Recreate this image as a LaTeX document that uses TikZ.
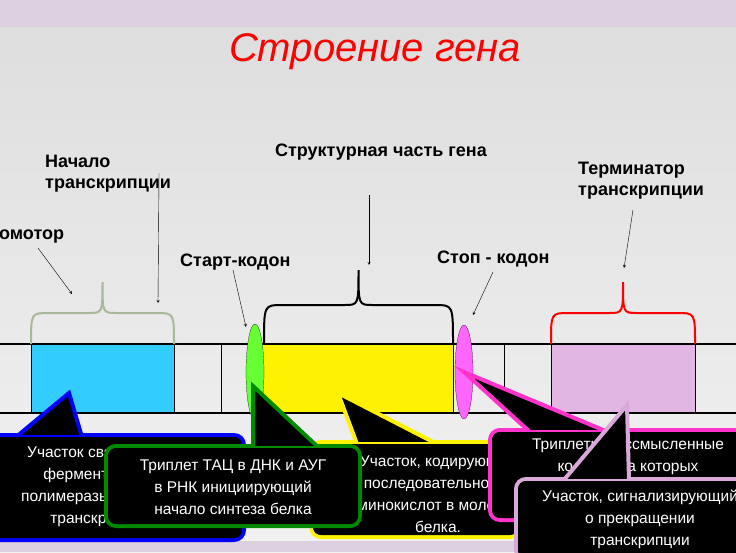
\documentclass[tikz,border=0pt]{standalone}
\usepackage{fontspec}
\setmainfont{Liberation Sans}
\usetikzlibrary{positioning}
\usetikzlibrary{shapes.geometric}
\usetikzlibrary{calc}
\definecolor{topband}{HTML}{DCD0E0}
\definecolor{bgtop}{HTML}{DEDEDE}
\definecolor{bgbot}{HTML}{F2F2F2}
\definecolor{promgrey}{HTML}{A8B898}
\definecolor{promblue}{HTML}{33CCFF}
\definecolor{startgreen}{HTML}{66FF33}
\definecolor{stoppink}{HTML}{FF66FF}
\definecolor{termpink}{HTML}{E2B6E2}
\definecolor{callpink}{HTML}{FF33CC}
\definecolor{callgreen}{HTML}{008A00}
\definecolor{callthistle}{HTML}{D8A8D8}

% brace over a gene part: x1, x2, shoulder y, tip y, colour
\newcommand{\genebrace}[5]{%
  \pgfmathsetmacro{\bracemid}{(#1+#2)/2}
  \draw [#5, line width=2pt]
    (#1,344) .. controls (#1,#3) .. (#1+18,#3)
    -- (\bracemid-14,#3) .. controls (\bracemid,#3) .. (\bracemid,#4)
    .. controls (\bracemid,#3) .. (\bracemid+14,#3)
    -- (#2-18,#3) .. controls (#2,#3) .. (#2,344);
}
% black call-out with coloured rim: colour, box corners, pointer points
\newcommand{\callout}[6]{%
  \draw [#1, line width=4pt, fill=black, rounded corners=10pt] #2 rectangle #3;
  \draw [#1, line width=4pt, fill=black, line join=miter] #4 -- #5 -- #6 -- cycle;
  \fill [black, rounded corners=8pt] ($#2+(2,2)$) rectangle ($#3+(-2,-2)$);
}

\begin{document}
\begin{tikzpicture}[x=1pt,y=-1pt,
  label/.style = {font=\fontsize{18}{21}\selectfont\bfseries, align=left, inner sep=0pt},
  calltext/.style = {font=\fontsize{15.5}{22}\selectfont, text=white, align=center, inner sep=0pt},
  pointer/.style = {-stealth, thin},
  part/.style = {draw=black, very thin}
]
\useasboundingbox (0,0) rectangle (736,552);
\shade [top color=bgtop, bottom color=bgbot] (0,27) rectangle (736,552);
\fill [topband] (0,0) rectangle (736,27);
\fill [topband] (0,541) rectangle (736,552);

\node (title) at (375,52) {\fontsize{40}{44}\selectfont\itshape\color{red} Строение гена};

% DNA strip
\fill [promblue] (31,344) rectangle (174,413);
\fill [yellow] (264,344) rectangle (453,413);
\fill [termpink] (551,344) rectangle (695,413);
\draw [part] (31,344) -- (31,413) (174,344) -- (174,413) (221,344) -- (221,413)
  (453,344) -- (453,413) (504,344) -- (504,413) (551,344) -- (551,413) (695,344) -- (695,413);
\draw [line width=1.6pt] (0,344) -- (736,344) (0,413) -- (736,413);
\node [ellipse, draw=black, very thin, fill=startgreen, minimum width=18pt, minimum height=96pt, inner sep=0pt] (start) at (255,372) {};
\node [ellipse, draw=black, very thin, fill=stoppink, minimum width=18pt, minimum height=94pt, inner sep=0pt] (stop) at (464,372) {};

\genebrace{31}{174}{313}{282}{promgrey}
\genebrace{264}{453}{305}{270}{black}
\genebrace{551}{695}{313}{282}{red}

% labels
\node [label, anchor=base west] (prom) at (-25,239) {Промотор};
\node [label, anchor=north west] (tstart) at (45,155) {Начало\\транскрипции};
\node [label] (struct) at (381,152) {Структурная часть гена};
\node [label, anchor=base west] (startlbl) at (180,266) {Старт-кодон};
\node [label, anchor=base west] (stoplbl) at (437,263) {Стоп - кодон};
\node [label, anchor=north west] (term) at (578,162) {Терминатор\\транскрипции};

\coordinate (promtip) at (72,294);
\coordinate (tstarttip) at (158,303);
\coordinate (structtop) at (369,195);
\coordinate (structtip) at (369,265);
\coordinate (starttip) at (246,327);
\coordinate (stoptip) at (473,315);
\coordinate (termtip) at (624,268);
\draw [pointer] (38,248) -- (promtip);
\draw [pointer] (159,173) -- (tstarttip);
\draw [pointer] (structtop) -- (structtip);
\draw [pointer] (233,270) -- (starttip);
\draw [pointer] (493,272) -- (stoptip);
\draw [pointer] (633,210) -- (termtip);

% call-outs
\callout{blue}{(-10,435)}{(244,540)}{(69,393)}{(16,437)}{(82,437)}
\node [calltext] (promtext) at (100,487) {Участок связывания\\фермента РНК-\\полимеразы и начало\\транскрипции};

\callout{yellow}{(311,442)}{(520,537)}{(338,393)}{(357,444)}{(437,444)}
\node [calltext] (codetext) at (438,494) {Участок, кодирующий\\последовательность\\аминокислот в молекуле\\белка.};

\callout{callpink}{(490,430)}{(760,520)}{(stop.center)}{(530,432)}{(608,432)}
\node [calltext, anchor=north] (stoptext) at (628,438) {Триплеты-бессмысленные\\кодоны, на которых};

\callout{callthistle}{(516,479)}{(760,560)}{(627,405)}{(563,481)}{(629,481)}
\node [calltext] (termtext) at (640,519) {Участок, сигнализирующий\\о прекращении\\транскрипции};

\callout{callgreen}{(106,446)}{(360,526)}{(253,386)}{(253,448)}{(319,448)}
\node [calltext] (starttext) at (233,487) {Триплет ТАЦ в ДНК и АУГ\\в РНК инициирующий\\начало синтеза белка};
\end{tikzpicture}
\end{document}
